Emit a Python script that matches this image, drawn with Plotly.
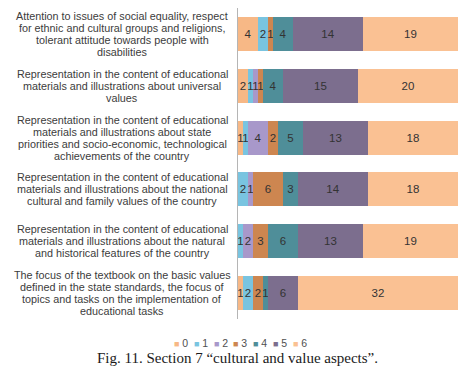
import plotly.graph_objects as go

categories = [
    "Attention to issues of social equality, respect<br>for ethnic and cultural groups and religions,<br>tolerant attitude towards people with<br>disabilities",
    "Representation in the content of educational<br>materials and illustrations about universal<br>values",
    "Representation in the content of educational<br>materials and illustrations about state<br>priorities and socio-economic, technological<br>achievements of the country",
    "Representation in the content of educational<br>materials and illustrations about the national<br>cultural and family values of the country",
    "Representation in the content of educational<br>materials and illustrations about the natural<br>and historical features of the country",
    "The focus of the textbook on the basic values<br>defined in the state standards, the focus of<br>topics and tasks on the implementation of<br>educational tasks",
]
series_names = ["0", "1", "2", "3", "4", "5", "6"]
s0 = [4, 2, 1, 0, 0, 1]
s1 = [2, 1, 1, 2, 1, 2]
s2 = [0, 1, 4, 1, 2, 0]
s3 = [1, 1, 2, 6, 3, 2]
s4 = [4, 4, 5, 3, 6, 1]
s5 = [14, 15, 13, 14, 13, 6]
s6 = [19, 20, 18, 18, 19, 32]
series_values = [s0, s1, s2, s3, s4, s5, s6]
colors = ["#F7B886", "#79C4E0", "#A898CA", "#CD8650", "#4F8E99", "#7C6E8E", "#FAC193"]
caption = "Fig. 11. Section 7 \u201ccultural and value aspects\u201d."

W, H = 474, 375
L, R, T, B = 238, 16, 8, 56
PW = W - L - R
PH = H - T - B
LINE_H = 12

fig = go.Figure()
for name, vals, col in zip(series_names, series_values, colors):
    fig.add_trace(go.Bar(
        y=categories, x=vals, name=name, orientation="h",
        marker=dict(color=col, line=dict(width=0)),
        text=[str(v) if v else "" for v in vals],
        textposition="inside", insidetextanchor="middle",
        textfont=dict(size=11.5, color="#333333", family="Liberation Sans"),
        hoverinfo="skip", showlegend=False,
    ))

def px_x(px):
    return (px - L) / PW

def px_y(py):
    return (H - B - py) / PH

# category labels, centred, with tight line spacing
for i, c in enumerate(categories):
    lines = c.split("<br>")
    n = len(lines)
    for j, ln in enumerate(lines):
        fig.add_annotation(
            x=px_x(122), xref="paper", y=i, yref="y", text=ln, showarrow=False,
            xanchor="center", yanchor="middle", align="center",
            yshift=-(j - (n - 1) / 2) * LINE_H,
            font=dict(size=10.8, color="#3c3c3c", family="Liberation Sans"),
        )

# legend (compact, as in the reference)
for k, (name, col) in enumerate(zip(series_names, colors)):
    fig.add_annotation(
        x=px_x(172 + 19.8 * k), xref="paper", y=px_y(343), yref="paper",
        text=f"<span style='color:{col};font-size:9px'>\u25A0</span> {name}",
        showarrow=False, xanchor="left", yanchor="middle",
        font=dict(size=10.5, color="#505050", family="Liberation Sans"),
    )

fig.add_annotation(
    x=px_x(237), xref="paper", y=px_y(358), yref="paper", text=caption,
    showarrow=False, xanchor="center", yanchor="middle",
    font=dict(size=15, color="#1a1a1a", family="Liberation Serif"),
)

fig.update_layout(
    width=W, height=H,
    margin=dict(l=L, r=R, t=T, b=B, autoexpand=False),
    barmode="stack", bargap=0.34,
    paper_bgcolor="white", plot_bgcolor="white",
    uniformtext=dict(minsize=11.5, mode="show"),
    showlegend=False,
    xaxis=dict(range=[0, 44], visible=False, fixedrange=True),
    yaxis=dict(autorange="reversed", showticklabels=False, showline=True,
               linecolor="#b5b5b5", linewidth=1, ticks="", showgrid=False),
)
fig.write_html("out.html", config={"displayModeBar": False},
               post_script="document.body.style.margin='0';")
